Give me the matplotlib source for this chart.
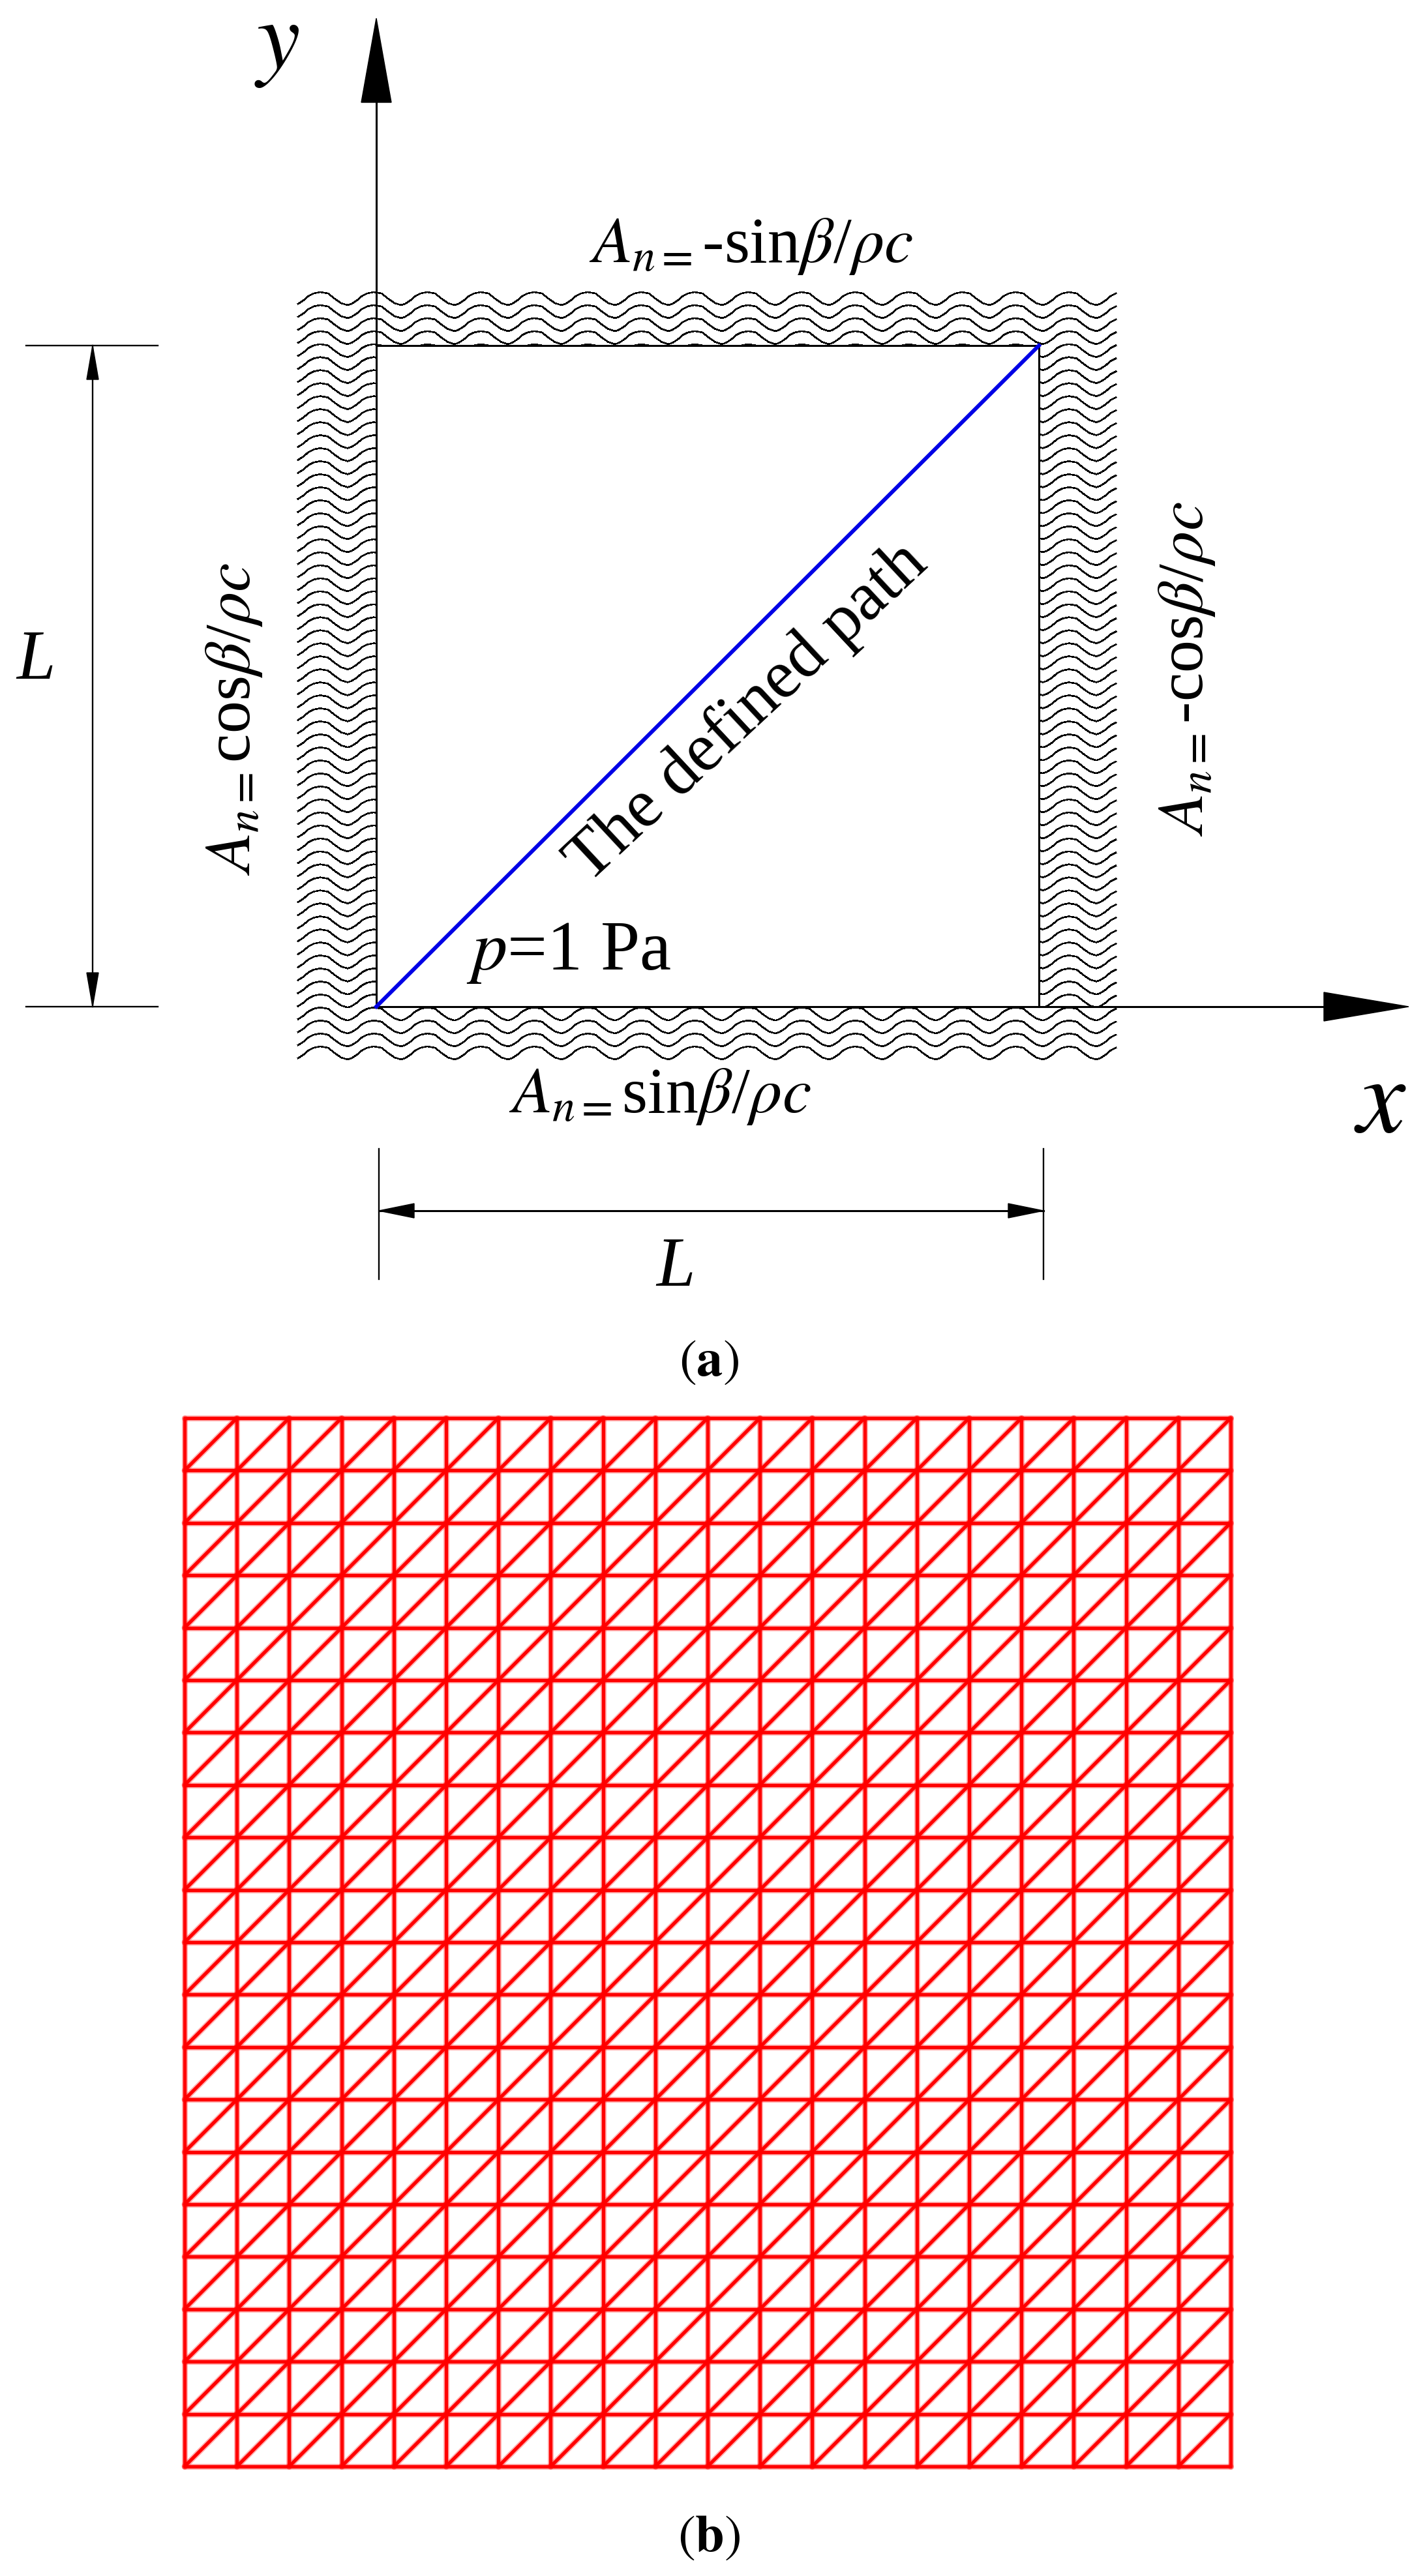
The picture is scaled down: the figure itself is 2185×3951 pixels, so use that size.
import numpy as np
import matplotlib
matplotlib.use("Agg")
import matplotlib.pyplot as plt

W, H = 2185, 3951

# schematic geometry in pixels
box_x = [577, 1593]
box_y = [530, 1544]
hatch_x = [457, 1718]
hatch_y = [448, 1605]
hatch_rows = 59
# one period of the wavy boundary line
wave_dx = [0, 8, 16, 24, 34, 46, 56, 66, 76, 82]
wave_dy = [8, 3, -4, -8, -10, -8, 0, 7, 10, 8]

yaxis_top = 28
xaxis_end = 2160
yarrow_x = [577, 554, 600]
yarrow_y = [28, 157, 157]
xarrow_x = [2160, 2030, 2030]
xarrow_y = [1544, 1522, 1566]

dim_v_x = 142
dim_v_ext = [40, 242]
dim_h_y = 1857
dim_h_ext = [1762, 1962]
dim_h_x = [581, 1600]

# mesh
mesh_nx = 20
mesh_ny = 20
mesh_left, mesh_right = 283, 1887
mesh_top, mesh_bottom = 2175, 3783

plt.rcParams["font.family"] = ["Liberation Serif", "DejaVu Serif"]
plt.rcParams["mathtext.fontset"] = "stix"

fig = plt.figure(figsize=(W / 100, H / 100), dpi=100)
ax = fig.add_axes([0, 0, 1, 1])
ax.set_xlim(0, W)
ax.set_ylim(H, 0)
ax.axis("off")

# wavy hatch
n_per = int((hatch_x[1] - hatch_x[0]) / wave_dx[-1]) + 1
xs = np.concatenate([np.array(wave_dx[:-1]) + i * wave_dx[-1] for i in range(n_per)]) + hatch_x[0]
ys = np.tile(wave_dy[:-1], n_per)
keep = xs <= hatch_x[1]
xs, ys = xs[keep], ys[keep]
for y0 in np.linspace(hatch_y[0], hatch_y[1], hatch_rows):
    ax.plot(xs, ys + y0 + 10, color="black", lw=1.1, antialiased=False, zorder=1)
ax.fill([box_x[0], box_x[1], box_x[1], box_x[0]], [box_y[0], box_y[0], box_y[1], box_y[1]],
        color="white", zorder=2)

# box and axes
lw = 2.2
ax.plot([box_x[0], box_x[1], box_x[1]], [box_y[0], box_y[0], box_y[1]], color="black", lw=lw, zorder=3)
ax.plot([box_x[0], box_x[0]], [yaxis_top + 60, box_y[1]], color="black", lw=lw, zorder=3)
ax.plot([box_x[0], xaxis_end - 60], [box_y[1], box_y[1]], color="black", lw=lw, zorder=3)
ax.fill(yarrow_x, yarrow_y, color="black", zorder=3)
ax.fill(xarrow_x, xarrow_y, color="black", zorder=3)
ax.plot(box_x, box_y[::-1], color="#0000e6", lw=4.3, zorder=4)

# dimensions
dlw = 1.7
for y in box_y:
    ax.plot(dim_v_ext, [y, y], color="black", lw=dlw)
ax.plot([dim_v_x, dim_v_x], box_y, color="black", lw=dlw)
ax.fill([dim_v_x, dim_v_x - 9, dim_v_x + 9], [box_y[0], box_y[0] + 52, box_y[0] + 52], color="black")
ax.fill([dim_v_x, dim_v_x - 9, dim_v_x + 9], [box_y[1], box_y[1] - 52, box_y[1] - 52], color="black")
for x in dim_h_x:
    ax.plot([x, x], dim_h_ext, color="black", lw=dlw)
ax.plot(dim_h_x, [dim_h_y, dim_h_y], color="black", lw=dlw + 0.5)
ax.fill([dim_h_x[0], dim_h_x[0] + 54, dim_h_x[0] + 54], [dim_h_y, dim_h_y - 11, dim_h_y + 11], color="black")
ax.fill([dim_h_x[1], dim_h_x[1] - 54, dim_h_x[1] - 54], [dim_h_y, dim_h_y - 11, dim_h_y + 11], color="black")

# labels
ax.text(425, 104, r"$y$", fontsize=108, ha="center", va="baseline")
ax.text(2116, 1737, r"$x$", fontsize=120, ha="center", va="baseline")
ax.text(55, 1041, "L", style="italic", fontsize=77, ha="center", va="baseline")
ax.text(1036, 1972, "L", style="italic", fontsize=77, ha="center", va="baseline")
ax.text(1152, 402, r"$A_{n{=}}$-sin$\beta$/$\rho c$", fontsize=72, ha="center", va="baseline")
ax.text(1012, 1706, r"$A_{n{=}}$sin$\beta$/$\rho c$", fontsize=72, ha="center", va="baseline")
ax.text(359, 1103, r"$A_{n{=}}$cos$\beta$/$\rho c$", fontsize=72, rotation=90, ha="center", va="center")
ax.text(1820, 1026, r"$A_{n{=}}$-cos$\beta$/$\rho c$", fontsize=72, rotation=90, ha="center", va="center")
ax.text(872, 1487, r"$p$=1 Pa", fontsize=78, ha="center", va="baseline")
ax.text(1146, 1094, "The defined path", fontsize=76, rotation=43, ha="center", va="center")
ax.text(1087, 2090, r"$(\mathbf{a})$", fontsize=58, ha="center", va="center")
ax.text(1087, 3893, r"$(\mathbf{b})$", fontsize=58, ha="center", va="center")

# triangular mesh in cell units
ax2 = fig.add_axes([mesh_left / W, 1 - mesh_bottom / H, (mesh_right - mesh_left) / W, (mesh_bottom - mesh_top) / H])
ax2.set_xlim(0, mesh_nx)
ax2.set_ylim(0, mesh_ny)
ax2.axis("off")
red = "#ff0000"
for width, alpha in [(6.5, 0.3), (3.8, 1.0)]:
    kw = dict(color=red, lw=width, alpha=alpha, clip_on=False, solid_capstyle="round")
    for i in range(mesh_nx + 1):
        ax2.plot([i, i], [0, mesh_ny], **kw)
    for j in range(mesh_ny + 1):
        ax2.plot([0, mesh_nx], [j, j], **kw)
    for i in range(mesh_nx):
        for j in range(mesh_ny):
            ax2.plot([i, i + 1], [j, j + 1], **kw)

fig.savefig("out.png", dpi=100)
